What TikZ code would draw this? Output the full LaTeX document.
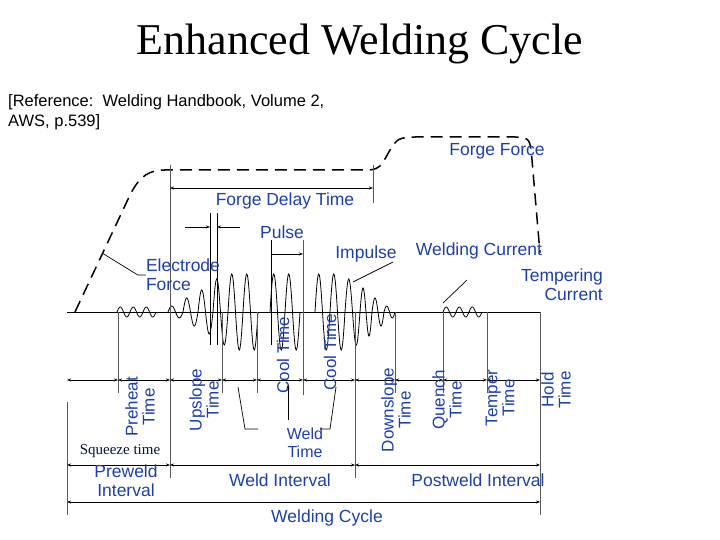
\documentclass[tikz,border=0pt]{standalone}
\usepackage{fontspec}
\setmainfont{Liberation Sans}
\newfontfamily\seriffont{Liberation Serif}
\usetikzlibrary{arrows.meta,positioning,calc}
\definecolor{lblue}{HTML}{1E3FA8}
\begin{document}
\begin{tikzpicture}[
  x=1pt, y=-1pt,
  >={Stealth[length=4pt,width=3pt]},
  every node/.style={inner sep=0pt},
  lbl/.style={text=lblue, font=\fontsize{17.5}{19}\selectfont, align=center},
  rlbl/.style={text=lblue, font=\fontsize{17}{17}\selectfont, align=center, rotate=90},
  force/.style={line width=1.5pt, dash pattern=on 12pt off 7pt},
  tmark/.style={gray!70!black, line width=0.9pt},
  dim/.style={<->, line width=0.9pt},
  lead/.style={line width=0.7pt},
  wave/.style={line width=0.8pt}
]
\useasboundingbox (0,0) rectangle (720,540);

% title and reference
\node[font=\seriffont\fontsize{44}{44}\selectfont] (title) at (360,44) {Enhanced Welding Cycle};
\node[font=\fontsize{16.5}{20}\selectfont, align=left, anchor=north west] (ref) at (8,94)
  {[Reference:\ \ Welding Handbook, Volume 2,\\AWS, p.539]};

% electrode / forge force
\draw[force] (75,312) -- (130,195) .. controls (140,175) and (150,170) .. (165,170)
  -- (370,170) .. controls (380,168) .. (390,150) .. controls (398,138) .. (415,137)
  -- (515,137) .. controls (530,138) .. (532,160) -- (540,253);

% baseline
\coordinate (b0) at (67,312);
\coordinate (b1) at (540,312);
\draw[line width=1pt] (b0) -- (b1);

% current wave
\foreach \xs/\a/\p in {117/5/13,130/5/13,143/5/13,
    168/6/15,183/14/15,198/22/15,213/33/15,228/38/15,243/38/15,
    270/38/15,285/38/15,
    315/38/15,330/38/15,345/33/15,360/24/12,372/14/12,384/6/11,
    443/5/13,456/5/13,469/5/13}
  \draw[wave] plot[domain=0:1, samples=25, smooth] ({\xs+\p*\x}, {312-\a*sin(360*\x)});

% time markers
\foreach \xm/\yt/\yb in {118/312/393, 170/165/478, 222/312/393, 257/312/393,
    303/240/395, 355/312/478, 395/312/393, 443/312/393, 487/312/393, 540/312/515}
  \draw[tmark] (\xm,\yt) -- (\xm,\yb);
\draw[tmark] (373,165) -- (373,203);
\draw[tmark] (67,402) -- (67,515);
\draw[line width=0.9pt] (210,213) -- (210,345);
\draw[line width=0.9pt] (217,213) -- (217,345);
\draw[line width=0.9pt] (271,240) -- (271,345);

% time axis
\foreach \xa/\xb in {67/118,118/170,170/222,222/257,257/303,303/355,355/395,395/443,443/487,487/540}
  \draw[dim] (\xa,380) -- (\xb,380);
\draw[dim] (67,465) -- (170,465);
\draw[dim] (170,465) -- (355,465);
\draw[dim] (355,465) -- (540,465);
\draw[dim] (67,502) -- (540,502);
\draw[dim] (170,188) -- (373,188);

% pulse and impulse
\draw[->, lead] (185,227) -- (210,227);
\draw[->, lead] (240,227) -- (217,227);
\draw[->, lead] (271,254) -- (303,254);

% labels top
\node[lbl] (forge) at (497,151) {Forge Force};
\node[lbl] (delay) at (285,201) {Forge Delay Time};
\node[lbl] (pulse) at (282,232) {Pulse};
\node[lbl] (impulse) at (366,254) {Impulse};
\node[lbl] (current) at (479,251) {Welding Current};
\node[lbl, align=right] (temper) at (562,285) {Tempering\\Current};
\node[lbl, align=left] (electrode) at (183,275) {Electrode\\Force};
\coordinate (wc) at (393,262);
\coordinate (tc) at (467,280);
\draw[lead] (wc) -- (353,282);
\draw[lead] (tc) -- (443,303);
\draw[lead] (electrode.west) -- ++(-8,0) -- (102,253);

% rotated labels
\node[rlbl] (preheat) at (140,407) {Preheat\\Time};
\node[rlbl] (upslope) at (204,400) {Upslope\\Time};
\node[rlbl] (cool1) at (283,355) {Cool Time};
\node[rlbl] (cool2) at (330,352) {Cool Time};
\node[rlbl] (downslope) at (396,410) {Downslope\\Time};
\node[rlbl] (quench) at (447,400) {Quench\\Time};
\node[rlbl] (tempert) at (500,398) {Temper\\Time};
\node[rlbl] (hold) at (556,390) {Hold\\Time};

% weld time bracket
\node[lbl, font=\fontsize{16}{18}\selectfont] (weldt) at (305,443) {Weld\\Time};
\draw[lead] (258,429) -- (245,429) -- (238,387);
\draw[lead] (320,429) -- (330,429) -- (336,387);
\draw[->, lead] (288,420) -- (288,385);

% interval labels
\node[font=\seriffont\fontsize{15}{15}\selectfont, text=black!70!lblue] (squeeze) at (120,451) {Squeeze time};
\node[lbl] (preweld) at (126,481) {Preweld\\Interval};
\node[lbl] (weldint) at (280,480) {Weld Interval};
\node[lbl] (postweld) at (478,480) {Postweld Interval};
\node[lbl] (cycle) at (327,518) {Welding Cycle};
\end{tikzpicture}
\end{document}
